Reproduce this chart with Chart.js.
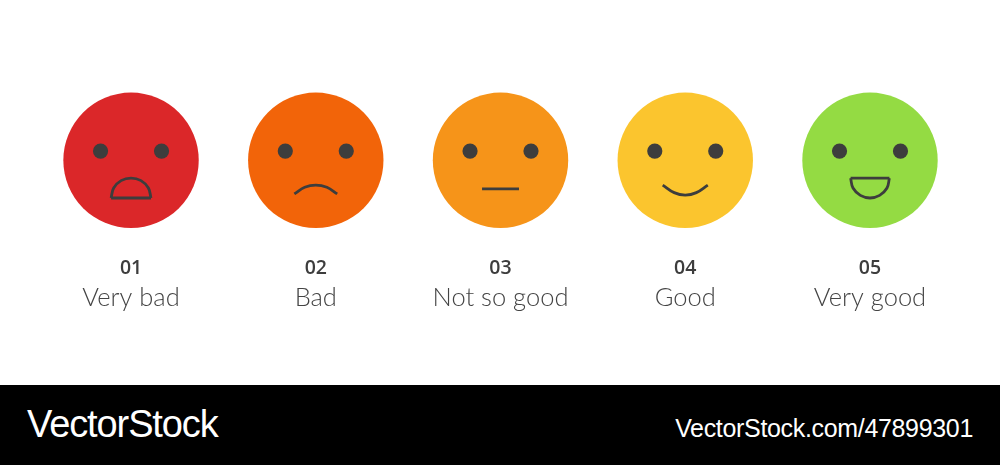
<!DOCTYPE html>
<html>
<head>
<meta charset="utf-8">
<title>Rating scale</title>
<script src="https://cdn.jsdelivr.net/npm/chart.js@4"></script>
<style>
    html, body { margin: 0; padding: 0; background: #fff; width: 1000px; height: 465px; overflow: hidden; }
    #wrap { position: relative; width: 1000px; height: 385px; }
    #footer { position: relative; width: 1000px; height: 80px; background: #000; color: #fff; font-family: "Liberation Sans", sans-serif; }
    #brand { position: absolute; left: 27px; top: 17px; font-size: 38px; letter-spacing: -1.1px; line-height: 44px; }
    #ref { position: absolute; right: 27px; top: 28px; font-size: 25px; letter-spacing: -0.33px; line-height: 30px; }
</style>
</head>
<body>
<div id="wrap"><canvas id="chart1"></canvas></div>
<div id="footer"><span id="brand">VectorStock</span><span id="ref">VectorStock.com/47899301</span></div>
<script>
const scores = [1, 2, 3, 4, 5];
const numbers = ['01', '02', '03', '04', '05'];
const labels = ['Very bad', 'Bad', 'Not so good', 'Good', 'Very good'];
const faceColors = ['#db2729', '#f26409', '#f69419', '#fbc52e', '#94db43'];

// offsets from the middle of a face, one unit = distance between two faces
const eyeX = [-0.165, 0.165];
const eyeY = 0.05;
const mouthX1 = [-0.108, -0.094, -0.054, 0, 0.054, 0.094, 0.108, -0.108];
const mouthY1 = [-0.204, -0.150, -0.110, -0.096, -0.110, -0.150, -0.204, -0.204];
const mouthX2 = [-0.116, -0.060, 0, 0.060, 0.116];
const mouthY2 = [-0.182, -0.146, -0.134, -0.146, -0.182];
const mouthX3 = [-0.100, 0.100];
const mouthY3 = [-0.155, -0.155];
const mouthX4 = [-0.122, -0.060, 0, 0.060, 0.122];
const mouthY4 = [-0.134, -0.175, -0.188, -0.175, -0.134];
const mouthX5 = [-0.105, -0.092, -0.052, 0, 0.052, 0.092, 0.105, -0.105];
const mouthY5 = [-0.096, -0.150, -0.190, -0.204, -0.190, -0.150, -0.096, -0.096];

const mouthsX = [mouthX1, mouthX2, mouthX3, mouthX4, mouthX5];
const mouthsY = [mouthY1, mouthY2, mouthY3, mouthY4, mouthY5];

const darkColor = '#3d3d3d';

const faceData = scores.map(s => ({ x: s, y: 0 }));
const eyeData = [];
scores.forEach(s => eyeX.forEach(dx => eyeData.push({ x: s + dx, y: eyeY })));

function mouthDataset(i) {
    // the open mouths have a straight edge, so it is drawn on its own
    const xs = mouthsX[i], ys = mouthsY[i];
    const closed = xs.length === 8;
    const n = closed ? 7 : xs.length;
    const pts = [];
    for (let k = 0; k < n; k++) pts.push({ x: scores[i] + xs[k], y: ys[k] });
    return {
        type: 'scatter', showLine: true, data: pts, pointRadius: 0, fill: false,
        borderColor: darkColor, borderWidth: 2.8, tension: 0.4, order: 1
    };
}

function mouthEdge(i) {
    const xs = mouthsX[i], ys = mouthsY[i];
    return {
        type: 'scatter', showLine: true,
        data: [{ x: scores[i] + xs[0], y: ys[0] }, { x: scores[i] + xs[6], y: ys[6] }],
        pointRadius: 0, borderColor: darkColor, borderWidth: 2.8, order: 1
    };
}

const captions = {
    id: 'captions',
    afterDraw(chart) {
        const { ctx, scales } = chart;
        ctx.save();
        ctx.textAlign = 'center';
        ctx.textBaseline = 'middle';
        scores.forEach((s, i) => {
            const x = scales.x.getPixelForValue(s);
            ctx.fillStyle = darkColor;
            ctx.font = '600 19.5px "Open Sans"';
            ctx.fillText(numbers[i], x, scales.y.getPixelForValue(-0.584));
            ctx.fillStyle = '#444';
            ctx.font = '300 25.5px Lato';
            ctx.fillText(labels[i], x, scales.y.getPixelForValue(-0.745));
        });
        ctx.restore();
    }
};

new Chart(document.getElementById('chart1'), {
    type: 'scatter',
    data: {
        datasets: [
            { data: faceData, backgroundColor: faceColors, pointRadius: 67.7, pointBorderWidth: 0, pointHoverRadius: 67.7, order: 3 },
            { data: eyeData, backgroundColor: darkColor, pointRadius: 7.6, pointBorderWidth: 0, order: 2 },
            mouthDataset(0), mouthEdge(0),
            mouthDataset(1),
            mouthDataset(2),
            mouthDataset(3),
            mouthDataset(4), mouthEdge(4)
        ]
    },
    options: {
        responsive: true,
        maintainAspectRatio: false,
        animation: false,
        layout: { padding: 0, autoPadding: false },
        plugins: { legend: { display: false }, tooltip: { enabled: false } },
        scales: {
            x: { type: 'linear', min: 0.2907, max: 5.7037, display: false },
            y: { type: 'linear', min: -1.2165, max: 0.8680, display: false }
        }
    },
    plugins: [captions]
});
</script>
</body>
</html>
